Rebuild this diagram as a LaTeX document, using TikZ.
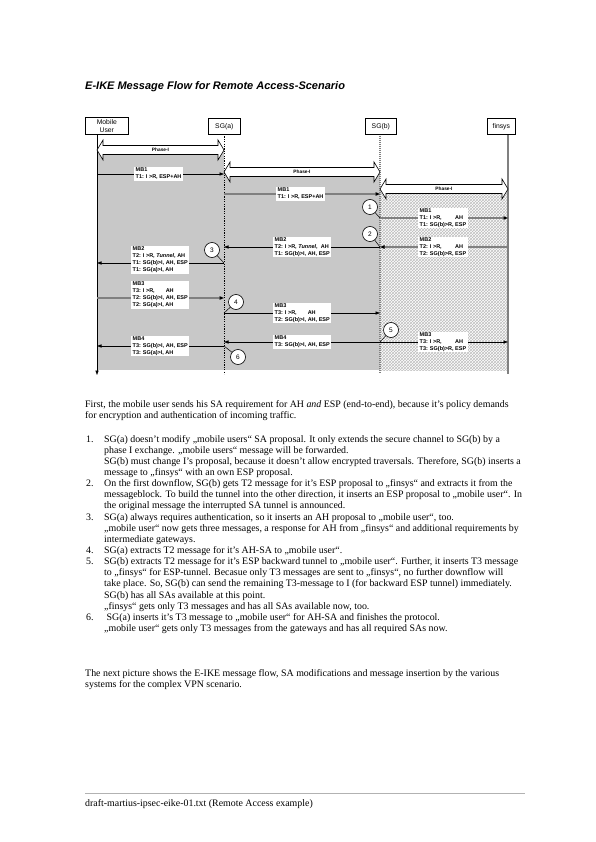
\documentclass[tikz,border=0pt]{standalone}
\usepackage{fontspec}
\setmainfont{Liberation Serif}
\setsansfont{Liberation Sans}
\usetikzlibrary{arrows.meta,patterns}
\newlength\tabw
\newcommand\tabal[3]{\settowidth\tabw{#2}\makebox[\tabw][l]{#1}#3}
\newcommand\lblfont{\sffamily\bfseries\fontsize{5.5}{7}\selectfont}
\definecolor{regiongray}{RGB}{200,200,200}
\definecolor{fwdgray}{RGB}{128,128,128}
\newcommand\phasearr[4]{%
  \draw[phasebox] (#1,#3) -- (#1+6,#3-10) -- (#1+6,#3-4.5) -- (#2-6,#3-4.5) -- (#2-6,#3-10) -- (#2,#3) -- (#2-6,#3+10) -- (#2-6,#3+4.5) -- (#1+6,#3+4.5) -- (#1+6,#3+10) -- cycle;
  \node[phlabel] (#4) at ({(#1+#2)/2},#3) {Phase-I};}
\begin{document}
\begin{tikzpicture}[x=1pt,y=-1pt,
  actor/.style={draw, line width=0.6pt, fill=white, inner sep=0pt, align=center, font=\sffamily\fontsize{6.8}{7.6}\selectfont, anchor=north west},
  msg/.style={line width=0.6pt, -{Triangle[length=4.5pt,width=3.2pt]}},
  fwd/.style={draw=fwdgray, line width=1.6pt, -{Triangle[length=4.5pt,width=3.5pt,color=black]}},
  mlabel/.style={fill=white, inner xsep=1.5pt, inner ysep=1pt, align=left, font=\lblfont, anchor=west},
  numc/.style={circle, draw, line width=0.6pt, fill=white, minimum size=15pt, inner sep=0pt, font=\sffamily\fontsize{6.5}{7}\selectfont},
  tailline/.style={line width=0.5pt},
  phasebox/.style={draw, line width=0.6pt, fill=white},
  phlabel/.style={font=\sffamily\bfseries\fontsize{4.8}{5}\selectfont, inner sep=0pt},
  txt/.style={anchor=base west, inner sep=0pt, font=\fontsize{9.9}{11}\selectfont},
]
\useasboundingbox (0,0) rectangle (595,842);

% title
\node[anchor=base west, inner sep=0pt, font=\sffamily\bfseries\itshape\fontsize{11}{13}\selectfont] (title) at (85,90) {E-IKE Message Flow for Remote Access-Scenario};

% regions
\fill[regiongray] (97,150) rectangle (224,370);
\fill[regiongray] (224,172) rectangle (380,370);
\fill[white] (380,189) rectangle (508,370);
\fill[pattern=crosshatch, pattern color=gray!50] (380,189) rectangle (508,370);

% lifelines
\coordinate (muT) at (97,134); \coordinate (muB) at (97,375);
\coordinate (saT) at (224,134); \coordinate (saB) at (224,374);
\coordinate (sbT) at (380,134); \coordinate (sbB) at (380,374);
\coordinate (fsT) at (508,134); \coordinate (fsB) at (508,374);
\draw[msg] (muT) -- (muB);
\draw[line width=0.5pt, dash pattern=on 1.2pt off 1.2pt] (saT) -- (saB);
\draw[fwdgray, line width=1.3pt, dash pattern=on 1pt off 1pt] (sbT) -- (sbB);
\draw[fwdgray, line width=1.6pt] (fsT) -- (fsB);

% actors
\node[actor, minimum width=43pt, minimum height=17pt] (mu) at (85,117) {Mobile\\User};
\node[actor, minimum width=32pt, minimum height=16pt] (sga) at (208,118) {SG(a)};
\node[actor, minimum width=31pt, minimum height=16pt] (sgb) at (365,118) {SG(b)};
\node[actor, minimum width=28pt, minimum height=16pt] (fin) at (487,118) {finsys};

% phase arrows
\phasearr{97}{224}{150}{ph1}
\phasearr{224}{380}{172}{ph2}
\phasearr{380}{508}{189}{ph3}

% MB1 left
\coordinate (m1a) at (97,174); \coordinate (m1b) at (224,174);
\draw[msg] (m1a) -- (m1b);
\node[mlabel] (l1) at (134,174) {MB1\\T1: I >R, ESP+AH};
% MB1 mid
\coordinate (m2a) at (224,194); \coordinate (m2b) at (380,194);
\draw[fwd] (m2a) -- (m2b);
\node[mlabel] (l2) at (276,194) {MB1\\T1: I >R, ESP+AH};
% MB1 right
\coordinate (m3a) at (380,218); \coordinate (m3b) at (508,218);
\draw[fwd] (m3a) -- (m3b);
\node[mlabel] (l3) at (418,218) {MB1\\\tabal{T1: I >R,}{T1: SG(b)>R, }{AH}\\T1: SG(b)>R, ESP};
\node[numc] (c1) at (370,207) {1};
\draw[tailline] (c1) -- (m3a);
% MB2 right
\coordinate (m4a) at (508,247); \coordinate (m4b) at (380,247);
\draw[fwd] (m4a) -- (m4b);
\node[mlabel] (l4) at (418,247) {MB2\\\tabal{T2: I >R,}{T2: SG(b)>R, }{AH}\\T2: SG(b)>R, ESP};
\node[numc] (c2) at (370,234) {2};
\draw[tailline] (c2) -- (m4b);
% MB2 mid
\coordinate (m5a) at (380,247); \coordinate (m5b) at (224,247);
\draw[msg] (m5a) -- (m5b);
\node[mlabel] (l5) at (273,247) {MB2\\T2: I >R, \textit{Tunnel},\ \ AH\\T1: SG(b)>I, AH, ESP};
% MB2 left
\coordinate (m6a) at (224,263); \coordinate (m6b) at (97,263);
\draw[msg] (m6a) -- (m6b);
\node[mlabel] (l6) at (131,260) {MB2\\T2: I >R, \textit{Tunnel}, AH\\T1: SG(b)>I, AH, ESP\\T1: SG(a)>I, AH};
\node[numc] (c3) at (212,250) {3};
\draw[tailline] (c3) -- (m6a);
% MB3 left
\coordinate (m7a) at (97,298); \coordinate (m7b) at (224,298);
\draw[fwd] (m7a) -- (m7b);
\node[mlabel] (l7) at (131,295) {MB3\\\tabal{T3: I >R,}{T2: SG(b)>I, }{AH}\\T2: SG(b)>I, AH, ESP\\T2: SG(a)>I, AH};
% MB3 mid
\coordinate (m8a) at (224,313); \coordinate (m8b) at (380,313);
\draw[msg] (m8a) -- (m8b);
\node[mlabel] (l8) at (273,313) {MB3\\\tabal{T3: I >R,}{T2: SG(b)>I, }{AH}\\T2: SG(b)>I, AH, ESP};
\node[numc] (c4) at (236,302) {4};
\draw[tailline] (c4) -- (m8a);
% MB3 right
\coordinate (m9a) at (380,342); \coordinate (m9b) at (508,342);
\draw[msg] (m9a) -- (m9b);
\node[mlabel] (l9) at (418,342) {MB3\\\tabal{T3: I >R,}{T3: SG(b)>R, }{AH}\\T3: SG(b)>R, ESP};
\node[numc] (c5) at (391,330) {5};
\draw[tailline] (c5) -- (m9a);
% MB4 mid
\coordinate (m10a) at (380,342); \coordinate (m10b) at (224,342);
\draw[msg] (m10a) -- (m10b);
\node[mlabel] (l10) at (273,342) {MB4\\T3: SG(b)>I, AH, ESP};
% MB4 left
\coordinate (m11a) at (224,346); \coordinate (m11b) at (97,346);
\draw[msg] (m11a) -- (m11b);
\node[mlabel] (l11) at (131,346) {MB4\\T3: SG(b)>I, AH, ESP\\T3: SG(a)>I, AH};
\node[numc] (c6) at (238,357) {6};
\draw[tailline] (c6) -- (m11a);

% body text
\node[txt] (p1a) at (85,407) {First, the mobile user sends his SA requirement for AH \textit{and} ESP (end-to-end), because it’s policy demands};
\node[txt] (p1b) at (85,418) {for encryption and authentication of incoming traffic.};

\node[txt] (n1) at (86,442) {1.};
\node[txt] (t0) at (104,442) {SG(a) doesn’t modify „mobile users“ SA proposal. It only extends the secure channel to SG(b) by a};
\node[txt] (t1) at (104,453.15) {phase I exchange. „mobile users“ message will be forwarded.};
\node[txt] (t2) at (104,464.3) {SG(b) must change I’s proposal, because it doesn’t allow encrypted traversals. Therefore, SG(b) inserts a};
\node[txt] (t3) at (104,475.45) {message to „finsys“ with an own ESP proposal.};
\node[txt] (n2) at (86,486.6) {2.};
\node[txt] (t4) at (104,486.6) {On the first downflow, SG(b) gets T2 message for it’s ESP proposal to „finsys“ and extracts it from the};
\node[txt] (t5) at (104,497.75) {messageblock. To build the tunnel into the other direction, it inserts an ESP proposal to „mobile user“. In};
\node[txt] (t6) at (104,508.9) {the original message the interrupted SA tunnel is announced.};
\node[txt] (n3) at (86,520.05) {3.};
\node[txt] (t7) at (104,520.05) {SG(a) always requires authentication, so it inserts an AH proposal to „mobile user“, too.};
\node[txt] (t8) at (104,531.2) {„mobile user“ now gets three messages, a response for AH from „finsys“ and additional requirements by};
\node[txt] (t9) at (104,542.35) {intermediate gateways.};
\node[txt] (n4) at (86,553.5) {4.};
\node[txt] (t10) at (104,553.5) {SG(a) extracts T2 message for it’s AH-SA to „mobile user“.};
\node[txt] (n5) at (86,564.65) {5.};
\node[txt] (t11) at (104,564.65) {SG(b) extracts T2 message for it’s ESP backward tunnel to „mobile user“. Further, it inserts T3 message};
\node[txt] (t12) at (104,575.8) {to „finsys“ for ESP-tunnel. Becasue only T3 messages are sent to „finsys“, no further downflow will};
\node[txt] (t13) at (104,586.95) {take place. So, SG(b) can send the remaining T3-message to I (for backward ESP tunnel) immediately.};
\node[txt] (t14) at (104,598.1) {SG(b) has all SAs available at this point.};
\node[txt] (t15) at (104,609.25) {„finsys“ gets only T3 messages and has all SAs available now, too.};
\node[txt] (n6) at (86,620.4) {6.};
\node[txt] (t16) at (106.5,620.4) {SG(a) inserts it’s T3 message to „mobile user“ for AH-SA and finishes the protocol.};
\node[txt] (t17) at (104,631.55) {„mobile user“ gets only T3 messages from the gateways and has all required SAs now.};

\node[txt] (q1) at (85,676) {The next picture shows the E-IKE message flow, SA modifications and message insertion by the various};
\node[txt] (q2) at (85,687) {systems for the complex VPN scenario.};

% footer
\coordinate (fl) at (85,793); \coordinate (fr) at (525,793);
\draw[gray!60, line width=0.6pt] (fl) -- (fr);
\node[txt] (foot) at (85,806) {draft-martius-ipsec-eike-01.txt (Remote Access example)};
\end{tikzpicture}
\end{document}
